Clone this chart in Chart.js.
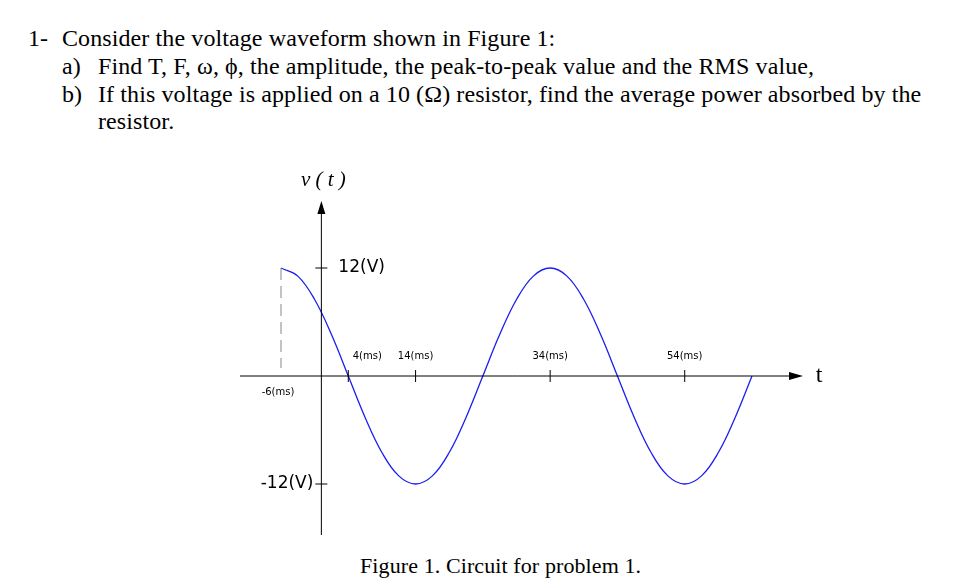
<!DOCTYPE html>
<html><head><meta charset="utf-8">
<script src="https://cdn.jsdelivr.net/npm/chart.js@4/dist/chart.umd.min.js"></script>
<style>
body{margin:0;background:#fff;width:980px;height:588px;overflow:hidden;position:relative;font-family:"Liberation Serif",serif;color:#000}
.t{position:absolute;font-size:24px;letter-spacing:0.1px;white-space:nowrap;line-height:1}
#wrap{position:absolute;left:0;top:0;width:980px;height:588px}
</style></head><body>
<div class="t" style="left:28px;top:26px">1-</div>
<div class="t" style="left:62px;top:26px">Consider the voltage waveform shown in Figure 1:</div>
<div class="t" style="left:62px;top:54px">a)</div>
<div class="t" style="left:98px;top:54px">Find T, F, ω, ϕ, the amplitude, the peak-to-peak value and the RMS value,</div>
<div class="t" style="left:62px;top:82px">b)</div>
<div class="t" style="left:98px;top:82px">If this voltage is applied on a 10 (Ω) resistor, find the average power absorbed by the</div>
<div class="t" style="left:98px;top:109px">resistor.</div>
<div class="t" style="left:360px;top:555px;font-size:22px">Figure 1. Circuit for problem 1.</div>
<div id="wrap"><canvas id="c"></canvas></div>
<script>
// waveform: t in ms, v in volts
var tiempos = [-6,-3.5,-1,1.5,4,6.5,9,11.5,14,16.5,19,21.5,24,26.5,29,31.5,34,36.5,39,41.5,44,46.5,49,51.5,54,56.5,59,61.5,64];
var voltajes = [12,11.1,8.5,4.6,0,-4.6,-8.5,-11.1,-12,-11.1,-8.5,-4.6,0,4.6,8.5,11.1,12,11.1,8.5,4.6,0,-4.6,-8.5,-11.1,-12,-11.1,-8.5,-4.6,0];
var marcasT = [4,14,34,54];
var etiquetasT = ["4(ms)","14(ms)","34(ms)","54(ms)"];

var puntos = tiempos.map(function(t,i){return {x:t,y:voltajes[i]};});

var ejes = {
  id:'ejes',
  afterDatasetsDraw:function(chart){
    var c = chart.ctx, x = chart.scales.x, y = chart.scales.y;
    var x0 = x.getPixelForValue(0), y0 = y.getPixelForValue(0);
    var yp = y.getPixelForValue(12), yn = y.getPixelForValue(-12);
    c.save();
    c.strokeStyle='#000'; c.fillStyle='#000'; c.lineWidth=1;
    c.beginPath(); c.moveTo(240,y0); c.lineTo(795,y0); c.stroke();
    c.beginPath(); c.moveTo(803,y0); c.lineTo(789,y0-4); c.lineTo(789,y0+4); c.fill();
    c.beginPath(); c.moveTo(x0,535); c.lineTo(x0,210); c.stroke();
    c.beginPath(); c.moveTo(x0,201); c.lineTo(x0-4,214); c.lineTo(x0+4,214); c.fill();
    c.beginPath(); c.moveTo(x0-6,yp); c.lineTo(x0+6,yp); c.moveTo(x0-6,yn); c.lineTo(x0+6,yn); c.stroke();
    c.beginPath();
    marcasT.forEach(function(t){var p=x.getPixelForValue(t); c.moveTo(p,y0-6); c.lineTo(p,y0+6);});
    c.stroke();
    var xm = x.getPixelForValue(-6);
    c.strokeStyle='#888'; c.setLineDash([12,6]);
    c.beginPath(); c.moveTo(xm,yp); c.lineTo(xm,y0-8); c.stroke();
    c.setLineDash([]);
    c.font='10px "DejaVu Sans"'; c.textAlign='center'; c.textBaseline='middle';
    marcasT.forEach(function(t,i){c.fillText(etiquetasT[i], x.getPixelForValue(t)+(i==0?19:0), y0-20);});
    c.fillText("-6(ms)", xm-3, y0+16);
    c.font='17px "DejaVu Sans"'; c.textAlign='left';
    c.fillText("12(V)", x0+17, yp);
    c.textAlign='right'; c.fillText("-12(V)", x0-8, yn);
    c.font='italic 21px "Liberation Serif"'; c.textAlign='center';
    c.fillText("v ( t )", x0+2, 180);
    c.font='24px "Liberation Serif"';
    c.fillText("t", 819, y0);
    c.restore();
  }
};

new Chart(document.getElementById('c'),{
  type:'line',
  data:{datasets:[{data:puntos,borderColor:'#1d1df0',borderWidth:1.3,pointRadius:0,tension:0.4,fill:false,clip:false}]},
  options:{
    responsive:true,maintainAspectRatio:false,animation:false,
    layout:{padding:{left:281,right:228,top:268,bottom:104}},
    plugins:{legend:{display:false},tooltip:{enabled:false}},
    scales:{
      x:{type:'linear',min:-6,max:64,display:false},
      y:{min:-12,max:12,display:false}
    }
  },
  plugins:[ejes]
});
</script>
</body></html>
